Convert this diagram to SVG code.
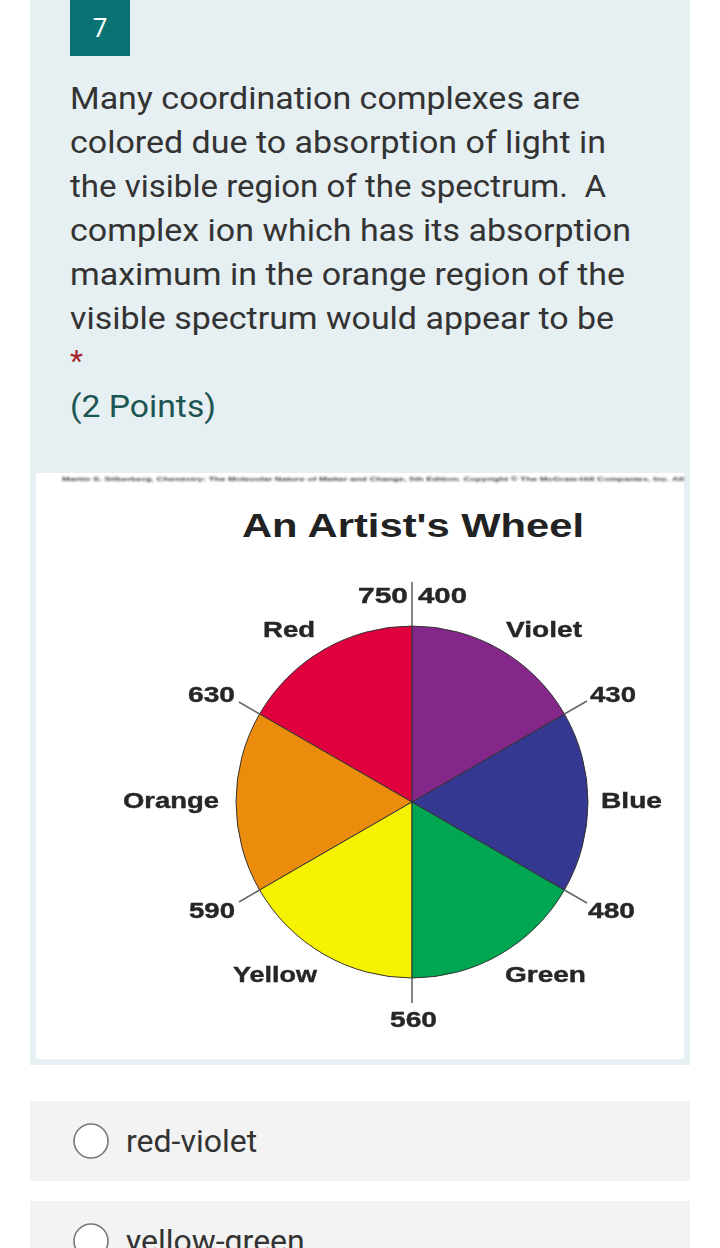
<svg xmlns="http://www.w3.org/2000/svg" width="720" height="1248" viewBox="0 0 720 1248">
<defs>
<style>
.q{font-family:Roboto,"Liberation Sans",sans-serif;font-size:32px;fill:#333}
.lab{font-family:"Liberation Sans",Arial,sans-serif;font-weight:bold;font-size:22px;fill:#262626;stroke:#262626;stroke-width:0.4}
.tick{stroke:#666;stroke-width:1.6;fill:none}
.sec{stroke:#333;stroke-width:1}
.opt{fill:#f3f3f3}
.radio{fill:#fff;stroke:#777;stroke-width:1.6}
</style>
<filter id="blur" x="-5%" y="-50%" width="110%" height="200%"><feGaussianBlur stdDeviation="0.9"/></filter>
<filter id="soft"><feGaussianBlur stdDeviation="0.4"/></filter>
</defs>
<rect width="720" height="1248" fill="#fff"/>
<g id="card">
<rect x="30" y="0" width="660" height="1065" fill="#e6eff2"/>
<rect x="70" y="0" width="60" height="56" fill="#087372"/>
<text x="100" y="37" text-anchor="middle" font-family="Roboto,'Liberation Sans',sans-serif" font-size="26" fill="#fff">7</text>
<text class="q" x="70" y="109" textLength="510" lengthAdjust="spacingAndGlyphs">Many coordination complexes are</text>
<text class="q" x="70" y="153" textLength="536" lengthAdjust="spacingAndGlyphs">colored due to absorption of light in</text>
<text class="q" x="70" y="197" textLength="536" lengthAdjust="spacingAndGlyphs" xml:space="preserve">the visible region of the spectrum.  A</text>
<text class="q" x="70" y="241" textLength="561" lengthAdjust="spacingAndGlyphs">complex ion which has its absorption</text>
<text class="q" x="70" y="285" textLength="555" lengthAdjust="spacingAndGlyphs">maximum in the orange region of the</text>
<text class="q" x="70" y="329" textLength="544" lengthAdjust="spacingAndGlyphs">visible spectrum would appear to be</text>
<text x="70" y="371" font-family="Roboto,'Liberation Sans',sans-serif" font-size="30" fill="#a4262c">*</text>
<text x="70" y="417" font-family="Roboto,'Liberation Sans',sans-serif" font-size="32" fill="#1d5552" textLength="146" lengthAdjust="spacingAndGlyphs">(2 Points)</text>
</g>
<g id="figure">
<rect x="36" y="473" width="648" height="586" fill="#fff"/>
<text x="62" y="481" font-family="'Liberation Sans',sans-serif" font-weight="bold" font-size="6" fill="#333" filter="url(#blur)" textLength="622" lengthAdjust="spacingAndGlyphs">Martin S. Silberberg, Chemistry: The Molecular Nature of Matter and Change, 5th Edition. Copyright © The McGraw-Hill Companies, Inc. All</text>
<text x="413" y="537" text-anchor="middle" font-family="'Liberation Sans',Arial,sans-serif" font-weight="bold" font-size="33" fill="#222" textLength="342" lengthAdjust="spacingAndGlyphs">An Artist's Wheel</text>
</g>
<g id="wheel" filter="url(#soft)">
<path class="sec" fill="#e0003c" d="M412,802 L412,626 A176,176 0 0 0 259.6,714 Z"/>
<path class="sec" fill="#ec8c0c" d="M412,802 L259.6,714 A176,176 0 0 0 259.6,890 Z"/>
<path class="sec" fill="#f7f200" d="M412,802 L259.6,890 A176,176 0 0 0 412,978 Z"/>
<path class="sec" fill="#00a651" d="M412,802 L412,978 A176,176 0 0 0 564.4,890 Z"/>
<path class="sec" fill="#343890" d="M412,802 L564.4,890 A176,176 0 0 0 564.4,714 Z"/>
<path class="sec" fill="#84288a" d="M412,802 L564.4,714 A176,176 0 0 0 412,626 Z"/>
</g>
<g id="connectors" filter="url(#soft)">
<line class="tick" x1="412" y1="582" x2="412" y2="626"/>
<line class="tick" x1="412" y1="978" x2="412" y2="1003"/>
<line class="tick" x1="239" y1="702" x2="259.6" y2="714"/>
<line class="tick" x1="564.4" y1="714" x2="587" y2="701"/>
<line class="tick" x1="259.6" y1="890" x2="239" y2="902"/>
<line class="tick" x1="564.4" y1="890" x2="587" y2="903"/>
</g>
<g id="labels" filter="url(#soft)">
<text class="lab" x="408" y="603" text-anchor="end" textLength="50" lengthAdjust="spacingAndGlyphs">750</text>
<text class="lab" x="418" y="603" textLength="49" lengthAdjust="spacingAndGlyphs">400</text>
<text class="lab" x="263" y="637" textLength="52" lengthAdjust="spacingAndGlyphs">Red</text>
<text class="lab" x="506" y="637" textLength="76" lengthAdjust="spacingAndGlyphs">Violet</text>
<text class="lab" x="188" y="702" textLength="47" lengthAdjust="spacingAndGlyphs">630</text>
<text class="lab" x="590" y="702" textLength="46" lengthAdjust="spacingAndGlyphs">430</text>
<text class="lab" x="123" y="808" textLength="96" lengthAdjust="spacingAndGlyphs">Orange</text>
<text class="lab" x="601" y="808" textLength="61" lengthAdjust="spacingAndGlyphs">Blue</text>
<text class="lab" x="189" y="918" textLength="46" lengthAdjust="spacingAndGlyphs">590</text>
<text class="lab" x="588" y="918" textLength="47" lengthAdjust="spacingAndGlyphs">480</text>
<text class="lab" x="233" y="982" textLength="84" lengthAdjust="spacingAndGlyphs">Yellow</text>
<text class="lab" x="505" y="982" textLength="81" lengthAdjust="spacingAndGlyphs">Green</text>
<text class="lab" x="390" y="1027" textLength="47" lengthAdjust="spacingAndGlyphs">560</text>
</g>
<g id="option1">
<rect class="opt" x="30" y="1101" width="660" height="80"/>
<circle class="radio" cx="91" cy="1141" r="17"/>
<text class="q" x="126" y="1152">red-violet</text>
</g>
<g id="option2">
<rect class="opt" x="30" y="1201" width="660" height="60"/>
<circle class="radio" cx="91" cy="1241" r="17"/>
<text class="q" x="126" y="1252">yellow-green</text>
</g>
</svg>
